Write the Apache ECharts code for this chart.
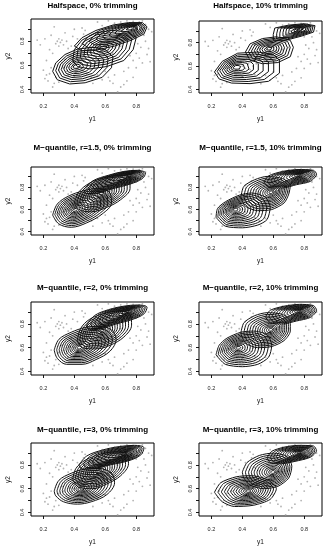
<!DOCTYPE html>
<html><head><meta charset="utf-8">
<script src="https://cdn.jsdelivr.net/npm/echarts@6/dist/echarts.min.js"></script>
<style>html,body{margin:0;padding:0;background:#fff}#c{width:329px;height:550px}</style>
</head><body><div id="c"></div>
<script>
const titles = ["Halfspace, 0% trimming","Halfspace, 10% trimming",
  "M\u2212quantile, r=1.5, 0% trimming","M\u2212quantile, r=1.5, 10% trimming",
  "M\u2212quantile, r=2, 0% trimming","M\u2212quantile, r=2, 10% trimming",
  "M\u2212quantile, r=3, 0% trimming","M\u2212quantile, r=3, 10% trimming"];
const xTicks = [0.2,0.4,0.6,0.8];
const yTicks = [0.4,0.5,0.6,0.7,0.8,0.9];
const yLabels = [0.4,0.6,0.8];

// observed data (y1, y2)
const y1 = [0.27,0.16,0.21,0.18,0.29,0.30,0.31,0.32,0.28,0.33,0.30,0.35,0.36,0.38,0.25,0.34,0.40,0.45,0.47,0.46,0.39,0.42,0.24,0.26,0.22,
  0.22,0.24,0.21,0.23,0.27,0.30,0.26,0.20,0.25,0.28,
  0.51,0.52,0.48,0.62,0.63,0.65,0.70,0.68,0.72,0.66,0.60,0.55,0.58,0.74,0.72,0.78,
  0.85,0.86,0.88,0.87,0.89,0.84,0.82,0.80,0.78,0.76,0.83,0.88,0.86,0.90,0.81,0.75,0.80,
  0.55,0.62,0.70,0.74,0.78,0.82,0.84,0.66,0.58,
  0.35,0.38,0.40,0.42,0.44,0.37,0.33,0.41,0.45,0.39,0.36,0.43,0.47,0.32,0.40,0.46,0.34,0.38,0.49,0.30,
  0.55,0.58,0.60,0.62,0.56,0.53,0.64,0.59,0.51,0.57,0.66,0.61,0.54,0.68,0.63,0.50,0.70,0.56,0.65,0.48,
  0.75,0.77,0.79,0.78,0.80,0.76,0.82,0.73,0.74,0.81,0.71,0.83,0.77,0.72,0.69,0.79,0.84,0.68,0.76,0.80];
const y2 = [0.92,0.81,0.82,0.77,0.80,0.82,0.79,0.81,0.78,0.77,0.76,0.80,0.74,0.76,0.85,0.87,0.90,0.91,0.89,0.86,0.84,0.82,0.73,0.70,0.64,
  0.52,0.53,0.49,0.47,0.45,0.46,0.42,0.56,0.58,0.50,
  0.50,0.45,0.53,0.50,0.47,0.45,0.42,0.38,0.44,0.52,0.55,0.52,0.48,0.47,0.55,0.50,
  0.85,0.80,0.74,0.69,0.63,0.62,0.66,0.70,0.64,0.68,0.75,0.90,0.94,0.88,0.78,0.58,0.58,
  0.96,0.97,0.96,0.97,0.965,0.96,0.97,0.95,0.93,
  0.55,0.57,0.60,0.58,0.62,0.61,0.58,0.54,0.57,0.64,0.52,0.66,0.60,0.62,0.51,0.64,0.65,0.68,0.62,0.56,
  0.72,0.74,0.76,0.73,0.77,0.70,0.78,0.70,0.75,0.80,0.74,0.68,0.66,0.80,0.82,0.71,0.76,0.62,0.70,0.78,
  0.90,0.91,0.92,0.89,0.90,0.93,0.92,0.88,0.92,0.88,0.90,0.94,0.86,0.85,0.88,0.95,0.90,0.84,0.87,0.85];

// contour sets: focus (innermost point) and outermost contour per cluster
const hs0Foci = [[0.41,0.59],[0.585,0.745],[0.78,0.915]];
const hs0Outer = [
  [[0.26,0.55],[0.28,0.62],[0.34,0.69],[0.42,0.735],[0.52,0.75],[0.60,0.73],[0.65,0.67],[0.64,0.58],[0.58,0.50],[0.47,0.455],[0.37,0.445],[0.29,0.48]],
  [[0.39,0.64],[0.40,0.73],[0.45,0.81],[0.54,0.87],[0.64,0.89],[0.74,0.88],[0.80,0.83],[0.78,0.73],[0.72,0.64],[0.61,0.59],[0.50,0.57],[0.42,0.59]],
  [[0.40,0.76],[0.45,0.83],[0.54,0.89],[0.65,0.935],[0.75,0.955],[0.84,0.955],[0.87,0.92],[0.85,0.86],[0.77,0.81],[0.66,0.76],[0.55,0.73],[0.45,0.72]]];
const hs10Foci = [[0.355,0.59],[0.575,0.75],[0.77,0.915]];
const hs10Outer = [
  [[0.22,0.55],[0.27,0.64],[0.37,0.71],[0.50,0.72],[0.60,0.70],[0.64,0.65],[0.64,0.54],[0.57,0.47],[0.45,0.45],[0.33,0.455],[0.25,0.49]],
  [[0.42,0.72],[0.45,0.79],[0.53,0.835],[0.62,0.85],[0.71,0.82],[0.73,0.76],[0.71,0.68],[0.63,0.63],[0.53,0.62],[0.45,0.65]],
  [[0.60,0.87],[0.61,0.925],[0.70,0.95],[0.80,0.962],[0.87,0.945],[0.86,0.89],[0.78,0.855],[0.68,0.82],[0.60,0.82]]];
const mq15a0Foci = [[0.40,0.595],[0.575,0.745],[0.76,0.91]];
const mq15a0Outer = [
  [[0.26,0.55],[0.29,0.65],[0.36,0.72],[0.46,0.77],[0.55,0.79],[0.63,0.75],[0.64,0.66],[0.58,0.56],[0.48,0.48],[0.38,0.44],[0.30,0.47]],
  [[0.40,0.66],[0.43,0.76],[0.50,0.84],[0.60,0.89],[0.69,0.91],[0.76,0.88],[0.76,0.79],[0.70,0.69],[0.61,0.62],[0.51,0.58],[0.43,0.60]],
  [[0.46,0.78],[0.52,0.86],[0.62,0.91],[0.72,0.945],[0.81,0.955],[0.86,0.93],[0.84,0.88],[0.76,0.83],[0.65,0.79],[0.55,0.75],[0.48,0.745]]];
const mq15a10Foci = [[0.352,0.60],[0.589,0.757],[0.77,0.914]];
const mq15a10Outer = [
  [[0.23,0.53],[0.24,0.61],[0.29,0.67],[0.38,0.73],[0.46,0.75],[0.55,0.71],[0.58,0.62],[0.56,0.51],[0.50,0.46],[0.40,0.435],[0.29,0.45]],
  [[0.39,0.71],[0.41,0.81],[0.48,0.87],[0.56,0.90],[0.66,0.88],[0.71,0.82],[0.70,0.74],[0.67,0.66],[0.59,0.60],[0.50,0.59],[0.42,0.63]],
  [[0.54,0.85],[0.57,0.905],[0.66,0.945],[0.76,0.962],[0.86,0.955],[0.88,0.92],[0.84,0.855],[0.75,0.825],[0.66,0.795],[0.57,0.80]]];
const mq2a0Foci = [[0.43,0.60],[0.575,0.74],[0.745,0.905]];
const mq2a0Outer = [
  [[0.27,0.58],[0.30,0.67],[0.38,0.73],[0.47,0.77],[0.56,0.78],[0.64,0.75],[0.67,0.67],[0.63,0.57],[0.54,0.50],[0.45,0.46],[0.35,0.46],[0.29,0.51]],
  [[0.42,0.66],[0.44,0.76],[0.50,0.84],[0.60,0.89],[0.69,0.91],[0.76,0.88],[0.77,0.79],[0.72,0.69],[0.63,0.62],[0.54,0.59],[0.45,0.60]],
  [[0.48,0.79],[0.53,0.87],[0.62,0.92],[0.72,0.95],[0.81,0.96],[0.87,0.94],[0.85,0.885],[0.78,0.84],[0.67,0.80],[0.57,0.76],[0.50,0.75]]];
const mq2a10Foci = [[0.37,0.60],[0.585,0.75],[0.77,0.91]];
const mq2a10Outer = [
  [[0.23,0.54],[0.25,0.62],[0.30,0.68],[0.39,0.73],[0.47,0.74],[0.56,0.71],[0.59,0.62],[0.57,0.52],[0.50,0.46],[0.40,0.44],[0.29,0.46]],
  [[0.39,0.72],[0.41,0.81],[0.48,0.87],[0.56,0.895],[0.66,0.88],[0.71,0.82],[0.71,0.74],[0.67,0.66],[0.59,0.61],[0.50,0.60],[0.42,0.64]],
  [[0.55,0.86],[0.58,0.915],[0.67,0.95],[0.77,0.965],[0.86,0.955],[0.88,0.915],[0.84,0.855],[0.75,0.825],[0.66,0.80],[0.58,0.81]]];
const mq3a0Foci = [[0.45,0.60],[0.56,0.75],[0.73,0.895]];
const mq3a0Outer = [
  [[0.27,0.58],[0.30,0.67],[0.38,0.73],[0.47,0.765],[0.56,0.77],[0.64,0.73],[0.66,0.65],[0.61,0.55],[0.51,0.49],[0.42,0.47],[0.33,0.49],[0.28,0.54]],
  [[0.39,0.68],[0.41,0.77],[0.47,0.84],[0.57,0.89],[0.66,0.91],[0.74,0.89],[0.75,0.81],[0.70,0.71],[0.61,0.64],[0.52,0.60],[0.43,0.61]],
  [[0.43,0.80],[0.48,0.875],[0.58,0.925],[0.69,0.955],[0.79,0.965],[0.85,0.945],[0.83,0.885],[0.75,0.835],[0.63,0.80],[0.53,0.77],[0.45,0.765]]];
const mq3a10Foci = [[0.44,0.58],[0.60,0.74],[0.77,0.904]];
const mq3a10Outer = [
  [[0.22,0.57],[0.26,0.65],[0.36,0.70],[0.46,0.71],[0.57,0.67],[0.62,0.60],[0.58,0.51],[0.47,0.46],[0.35,0.45],[0.27,0.49]],
  [[0.40,0.74],[0.43,0.82],[0.51,0.88],[0.60,0.90],[0.69,0.87],[0.72,0.79],[0.70,0.69],[0.63,0.62],[0.54,0.60],[0.45,0.63],[0.41,0.69]],
  [[0.56,0.86],[0.59,0.915],[0.67,0.95],[0.76,0.965],[0.86,0.96],[0.88,0.92],[0.84,0.865],[0.74,0.83],[0.65,0.81],[0.58,0.82]]];

const hsLevels = [1,0.87,0.75,0.63,0.52,0.41,0.31,0.21,0.12];
const mqLevels = [1,0.9,0.8,0.71,0.62,0.53,0.45,0.37,0.29,0.22,0.15,0.08];

const panels = [
  {foci:hs0Foci, outer:hs0Outer, levels:hsLevels, smooth:false},
  {foci:hs10Foci, outer:hs10Outer, levels:hsLevels, smooth:false},
  {foci:mq15a0Foci, outer:mq15a0Outer, levels:mqLevels, smooth:0.35},
  {foci:mq15a10Foci, outer:mq15a10Outer, levels:mqLevels, smooth:0.25},
  {foci:mq2a0Foci, outer:mq2a0Outer, levels:mqLevels, smooth:0.35},
  {foci:mq2a10Foci, outer:mq2a10Outer, levels:mqLevels, smooth:0.25},
  {foci:mq3a0Foci, outer:mq3a0Outer, levels:mqLevels, smooth:0.35},
  {foci:mq3a10Foci, outer:mq3a10Outer, levels:mqLevels, smooth:0.25}];

// layout
const boxLeft = [31,199];
const boxW = 123;
const boxTop = [19,21,167,167,302,302,443,443];
const boxH = [74,72,68,68,73,73,73,73];
const titleTop = [1.5,1.5,144,144,283.5,283.5,425.5,425.5];

const FONT = "'Liberation Sans', Arial, sans-serif";
const pts = y1.map((v,i)=>[v,y2[i]]);
const grid=[], xAxis=[], yAxis=[], series=[], title=[];
panels.forEach((p,i)=>{
  const col=i%2;
  grid.push({left:boxLeft[col], top:boxTop[i], width:boxW, height:boxH[i], show:true, borderColor:'#000', borderWidth:1, backgroundColor:'transparent'});
  title.push({text:titles[i], left:boxLeft[col]+boxW/2, top:titleTop[i], textAlign:'center', padding:0,
    textStyle:{fontSize:8, fontWeight:'bold', fontFamily:FONT, color:'#000'}});
  xAxis.push({gridIndex:i, type:'value', min:0.12, max:0.915, name:'y1', nameLocation:'middle', nameGap:23,
    nameTextStyle:{fontSize:6.5, color:'#111', fontFamily:FONT},
    axisLine:{show:false}, splitLine:{show:false},
    axisTick:{show:true, length:3, customValues:xTicks, lineStyle:{color:'#000', width:0.9}},
    axisLabel:{customValues:xTicks, fontSize:5.5, margin:10, color:'#222', fontFamily:FONT, formatter:v=>v.toFixed(1)}});
  yAxis.push({gridIndex:i, type:'value', min:0.37, max:0.985, name:'y2', nameLocation:'middle', nameRotate:90, nameGap:19,
    nameTextStyle:{fontSize:6.5, color:'#111', fontFamily:FONT},
    axisLine:{show:false}, splitLine:{show:false},
    axisTick:{show:true, length:3, customValues:yTicks, lineStyle:{color:'#000', width:0.9}},
    axisLabel:{customValues:yLabels, fontSize:5.5, margin:5.5, rotate:90, color:'#222', fontFamily:FONT, formatter:v=>v.toFixed(1)}});
  series.push({type:'scatter', xAxisIndex:i, yAxisIndex:i, data:pts, symbolSize:1.8, silent:true,
    itemStyle:{color:'#a0a0a0'}, z:1});
  p.foci.forEach((f,c)=>{
    p.levels.forEach(k=>{
      const ring = p.outer[c].map(q=>[f[0]+k*(q[0]-f[0]), f[1]+k*(q[1]-f[1])]);
      ring.push(ring[0]);
      series.push({type:'line', xAxisIndex:i, yAxisIndex:i, data:ring, symbol:'none', smooth:p.smooth, silent:true,
        lineStyle:{color:'#111', width:1}, z:3});
    });
  });
});
const chart = echarts.init(document.getElementById('c'), null, {renderer:'canvas'});
chart.setOption({animation:false, backgroundColor:'#fff', title, grid, xAxis, yAxis, series});
</script></body></html>
